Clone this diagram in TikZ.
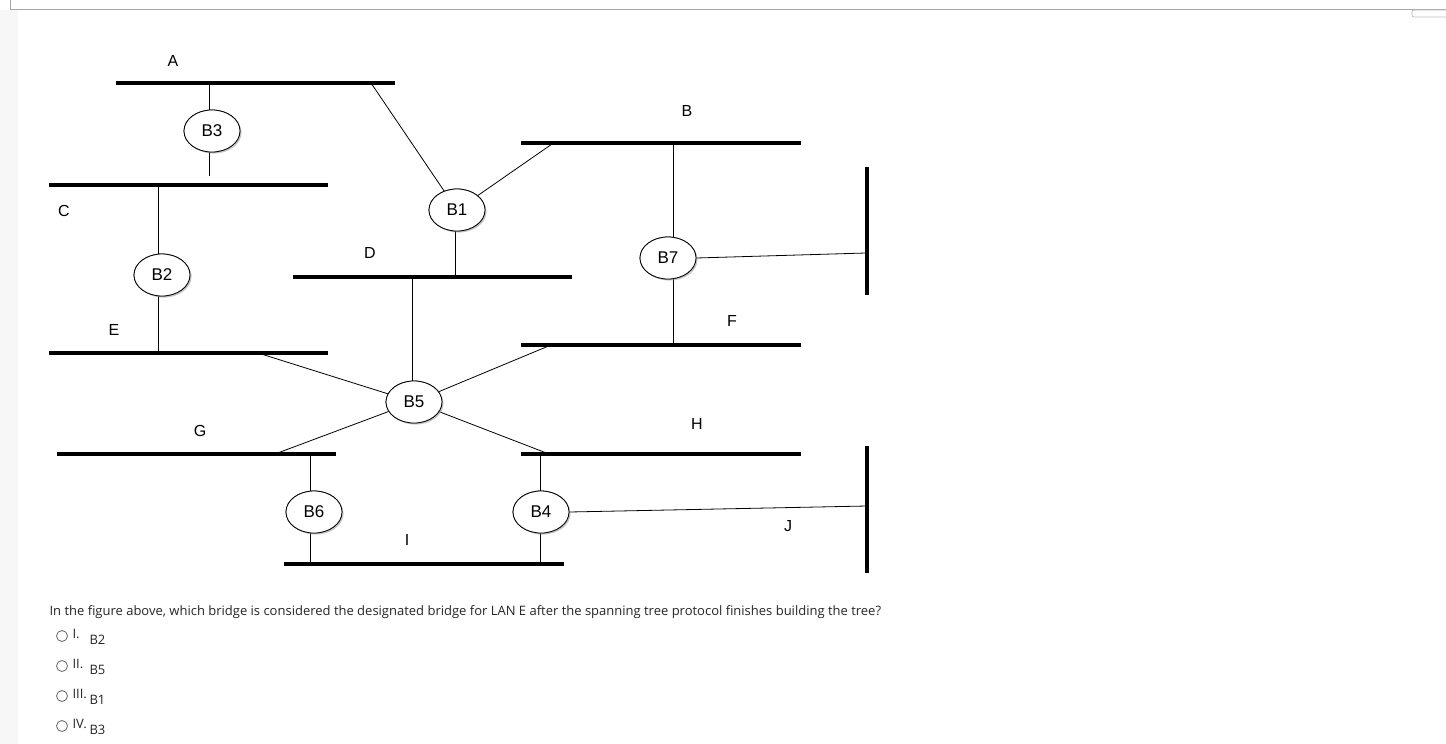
\documentclass[tikz,border=0pt]{standalone}
\usepackage{fontspec}
\setmainfont{Liberation Sans}
\newfontfamily\qfont{Open Sans}
\usetikzlibrary{shapes.geometric,shadows}
\begin{document}
\begin{tikzpicture}[x=1pt,y=-1pt,
  lan/.style={line width=4pt},
  wire/.style={line width=0.8pt},
  bridge/.style={ellipse,draw,line width=0.8pt,fill=white,minimum width=56pt,minimum height=42pt,inner sep=0pt,font=\fontsize{17}{17}\selectfont,drop shadow={shadow xshift=1.5pt,shadow yshift=-1.5pt,fill=gray!60}},
  lbl/.style={font=\fontsize{16}{16}\selectfont},
  qtxt/.style={font=\qfont\fontsize{13}{15}\selectfont,anchor=west,text=black!85}]
\useasboundingbox (0,0) rectangle (1446,744);
\fill[white] (0,0) rectangle (1446,744);
\fill[black!3] (0,10) rectangle (18,744);
\draw[black!35,line width=1pt] (10,0) -- (10,9.5) -- (1446,9.5);
\draw[black!25,line width=0.8pt,rounded corners=2pt] (1446,10) -- (1412,10) -- (1412,17) -- (1446,17);
% LANs
\draw[lan] (116,83) -- (395,83);
\draw[lan] (49,185) -- (328,185);
\draw[lan] (49,353) -- (328,353);
\draw[lan] (293,277) -- (572,277);
\draw[lan] (521,143) -- (801,143);
\draw[lan] (521,345) -- (801,345);
\draw[lan] (57,454) -- (336,454);
\draw[lan] (521,454) -- (801,454);
\draw[lan] (284,564) -- (564,564);
\draw[lan] (867,167) -- (867,295);
\draw[lan] (867,446) -- (867,573);
% labels
\node[lbl] (lA) at (173,61) {A};
\node[lbl] (lB) at (687,111) {B};
\node[lbl] (lC) at (64,211) {C};
\node[lbl] (lD) at (370,253) {D};
\node[lbl] (lE) at (114,330) {E};
\node[lbl] (lF) at (732,321) {F};
\node[lbl] (lG) at (200,431) {G};
\node[lbl] (lH) at (697,424) {H};
\node[lbl] (lI) at (407,540) {I};
\node[lbl] (lJ) at (788,526) {J};
\coordinate (pA3) at (209,83); \coordinate (pC3) at (209,176);
\coordinate (pC2) at (158,185); \coordinate (pE2) at (158,353);
\coordinate (pA1) at (371,83); \coordinate (pB1) at (552,144); \coordinate (pD1) at (455,277);
\coordinate (pB7) at (673,143); \coordinate (pF7) at (673,345); \coordinate (pR7) at (866,253);
\coordinate (pD5) at (412,277); \coordinate (pE5) at (258,353); \coordinate (pF5) at (551,345);
\coordinate (pG5) at (275,454); \coordinate (pH5) at (549,454);
\coordinate (pG6) at (310,454); \coordinate (pI6) at (310,563);
\coordinate (pH4) at (540,454); \coordinate (pI4) at (540,563); \coordinate (pJ4) at (867,506);
\node[bridge] (B3) at (212,131) {B3};
\node[bridge] (B2) at (162,275) {B2};
\node[bridge] (B1) at (457,210) {B1};
\node[bridge] (B7) at (668,258) {B7};
\node[bridge] (B5) at (414,402) {B5};
\node[bridge] (B6) at (314,512) {B6};
\node[bridge] (B4) at (541,512) {B4};
\begin{scope}[wire]
\draw (pA3) -- (pA3 |- B3.north);
\draw (pC3 |- B3.south) -- (pC3);
\draw (pC2) -- (pC2 |- B2.north);
\draw (pE2 |- B2.south) -- (pE2);
\draw (pA1) -- (B1);
\draw (pB1) -- (B1);
\draw (pD1 |- B1.south) -- (pD1);
\draw (pB7) -- (pB7 |- B7.north);
\draw (pF7 |- B7.south) -- (pF7);
\draw (B7.east) -- (pR7);
\draw (pD5) -- (pD5 |- B5.north);
\draw (pE5) -- (B5); \draw (pF5) -- (B5); \draw (pG5) -- (B5); \draw (pH5) -- (B5);
\draw (pG6) -- (pG6 |- B6.north); \draw (pI6 |- B6.south) -- (pI6);
\draw (pH4) -- (pH4 |- B4.north); \draw (pI4 |- B4.south) -- (pI4);
\draw (B4.east) -- (pJ4);
\end{scope}
\foreach \p/\t in {{212,131}/B3,{162,275}/B2,{457,210}/B1,{668,258}/B7,{414,402}/B5,{314,512}/B6,{541,512}/B4}
  \node[bridge] at (\p) {\t};
% question
\node[qtxt] (q) at (46,612) {In the figure above, which bridge is considered the designated bridge for LAN E after the spanning tree protocol finishes building the tree?};
\foreach \i/\r/\b in {0/I./B2,1/II./B5,2/III./B1,3/IV./B3}{
  \draw[black!60,line width=0.8pt] (62,{636+\i*30}) circle (5.5);
  \node[qtxt] at (69,{634+\i*30}) {\r};
  \node[qtxt] at (86,{640+\i*30}) {\b};
}
\end{tikzpicture}
\end{document}
